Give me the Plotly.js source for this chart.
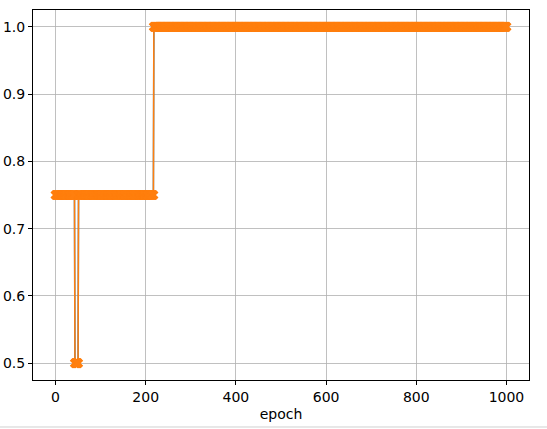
<!DOCTYPE html>
<html>
<head>
<meta charset="utf-8">
<script src="https://cdn.plot.ly/plotly-3.0.1.min.js"></script>
<style>html,body{margin:0;padding:0;background:#fff;}#chart{width:547px;height:429px;}</style>
</head>
<body>
<div id="chart"></div>
<script>
// Run-length description of the accuracy per epoch
var segmentStartEpochs = [0, 43, 51, 218];
var segmentValues = [0.75, 0.5, 0.75, 1.0];
var lastEpoch = 1000;
var xTickVals = [0, 200, 400, 600, 800, 1000];
var yTickVals = [0.5, 0.6, 0.7, 0.8, 0.9, 1.0];
var yTickText = ["0.5", "0.6", "0.7", "0.8", "0.9", "1.0"];

var epochs = [], acc = [];
for (var e = 0; e <= lastEpoch; e++) {
  var v = segmentValues[0];
  for (var s = 0; s < segmentStartEpochs.length; s++) {
    if (e >= segmentStartEpochs[s]) v = segmentValues[s];
  }
  epochs.push(e);
  acc.push(v);
}

var font = {family: "DejaVu Sans, sans-serif", size: 14, color: "#000"};
var traces = [
  {x: epochs, y: acc, type: "scatter", mode: "lines",
   line: {color: "#1f77b4", width: 1.5}, hoverinfo: "skip", showlegend: false},
  {x: epochs, y: acc, type: "scatter", mode: "lines+markers",
   line: {color: "#ff7f0e", width: 1.5},
   marker: {symbol: "x", size: 9, color: "#ff7f0e", line: {width: 0}},
   showlegend: false}
];
var layout = {
  width: 547, height: 429,
  margin: {l: 33, r: 18, t: 10, b: 49},
  paper_bgcolor: "#fff", plot_bgcolor: "#fff",
  font: font,
  xaxis: {
    range: [-50, 1050], tickvals: xTickVals, ticks: "outside", ticklen: 4, tickcolor: "#000",
    showline: true, linecolor: "#000", linewidth: 1, mirror: true,
    showgrid: true, gridcolor: "#b0b0b0", gridwidth: 0.8, zeroline: false,
    title: {text: "epoch", font: font, standoff: 5}, tickfont: font
  },
  yaxis: {
    range: [0.475, 1.025], tickvals: yTickVals, ticktext: yTickText, ticks: "outside", ticklen: 4, tickcolor: "#000",
    showline: true, linecolor: "#000", linewidth: 1, mirror: true,
    showgrid: true, gridcolor: "#b0b0b0", gridwidth: 0.8, zeroline: false,
    tickfont: font
  },
  shapes: [{type: "line", xref: "paper", yref: "paper", x0: -0.07, x1: 1.04, y0: -0.127, y1: -0.127,
            line: {color: "#d0d0d0", width: 1}}]
};
Plotly.newPlot("chart", traces, layout, {displayModeBar: false, staticPlot: true});
</script>
</body>
</html>
